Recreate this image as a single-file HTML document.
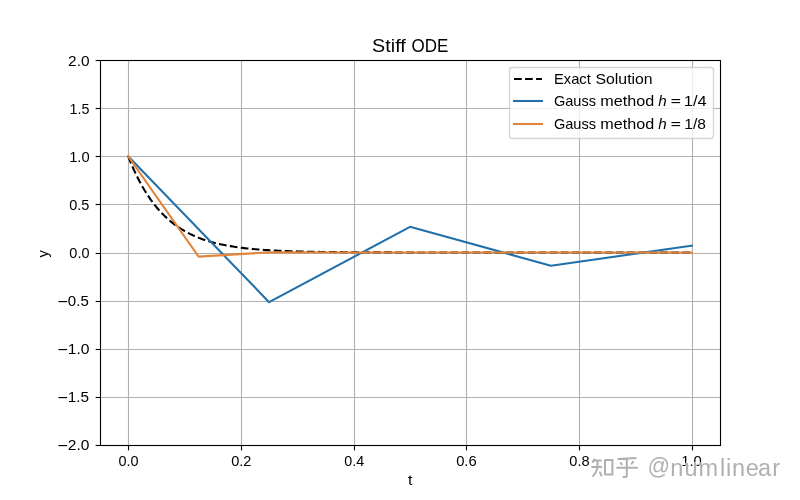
<!DOCTYPE html>
<html><head><meta charset="utf-8"><title>Stiff ODE</title>
<style>
html,body{margin:0;padding:0;background:#fff;width:800px;height:500px;overflow:hidden}
svg{display:block;will-change:transform}
text{font-family:"Liberation Sans",sans-serif;fill:#000}
.g{stroke:#b0b0b0;stroke-width:1.111}
.k{stroke:#000;stroke-width:1.111}
</style></head><body>
<svg width="800" height="500" viewBox="0 0 800 500">
<rect width="800" height="500" fill="#fff"/>
<line x1="128.5" y1="60.5" x2="128.5" y2="445.5" class="g"/>
<line x1="241.5" y1="60.5" x2="241.5" y2="445.5" class="g"/>
<line x1="354.5" y1="60.5" x2="354.5" y2="445.5" class="g"/>
<line x1="466.5" y1="60.5" x2="466.5" y2="445.5" class="g"/>
<line x1="579.5" y1="60.5" x2="579.5" y2="445.5" class="g"/>
<line x1="692.5" y1="60.5" x2="692.5" y2="445.5" class="g"/>
<line x1="100.5" y1="108.5" x2="720.5" y2="108.5" class="g"/>
<line x1="100.5" y1="156.5" x2="720.5" y2="156.5" class="g"/>
<line x1="100.5" y1="204.5" x2="720.5" y2="204.5" class="g"/>
<line x1="100.5" y1="253.5" x2="720.5" y2="253.5" class="g"/>
<line x1="100.5" y1="301.5" x2="720.5" y2="301.5" class="g"/>
<line x1="100.5" y1="349.5" x2="720.5" y2="349.5" class="g"/>
<line x1="100.5" y1="397.5" x2="720.5" y2="397.5" class="g"/>
<polyline points="128.18,156.25 131.01,163.24 133.85,169.72 136.68,175.73 139.51,181.3 142.34,186.47 145.18,191.27 148.01,195.71 150.84,199.84 153.67,203.66 156.51,207.21 159.34,210.49 162.17,213.54 165,216.37 167.83,219 170.67,221.43 173.5,223.68 176.33,225.78 179.16,227.72 182,229.52 184.83,231.18 187.66,232.73 190.49,234.17 193.33,235.5 196.16,236.73 198.99,237.88 201.82,238.94 204.66,239.92 207.49,240.84 210.32,241.68 213.15,242.47 215.98,243.2 218.82,243.87 221.65,244.5 224.48,245.08 227.31,245.62 230.15,246.12 232.98,246.58 235.81,247.01 238.64,247.41 241.48,247.78 244.31,248.12 247.14,248.44 249.97,248.74 252.8,249.01 255.64,249.26 258.47,249.5 261.3,249.72 264.13,249.92 266.97,250.1 269.8,250.28 272.63,250.44 275.46,250.59 278.3,250.73 281.13,250.86 283.96,250.98 286.79,251.09 289.63,251.19 292.46,251.28 295.29,251.37 298.12,251.45 300.95,251.53 303.79,251.6 306.62,251.67 309.45,251.73 312.28,251.78 315.12,251.83 317.95,251.88 320.78,251.93 323.61,251.97 326.45,252.01 329.28,252.04 332.11,252.08 334.94,252.11 337.78,252.14 340.61,252.16 343.44,252.19 346.27,252.21 349.1,252.23 351.94,252.25 354.77,252.27 357.6,252.29 360.43,252.3 363.27,252.32 366.1,252.33 368.93,252.34 371.76,252.35 374.6,252.36 377.43,252.37 380.26,252.38 383.09,252.39 385.93,252.4 388.76,252.41 391.59,252.41 394.42,252.42 397.25,252.43 400.09,252.43 402.92,252.44 405.75,252.44 408.58,252.44 411.42,252.45 414.25,252.45 417.08,252.46 419.91,252.46 422.75,252.46 425.58,252.46 428.41,252.47 431.24,252.47 434.07,252.47 436.91,252.47 439.74,252.48 442.57,252.48 445.4,252.48 448.24,252.48 451.07,252.48 453.9,252.48 456.73,252.48 459.57,252.49 462.4,252.49 465.23,252.49 468.06,252.49 470.9,252.49 473.73,252.49 476.56,252.49 479.39,252.49 482.22,252.49 485.06,252.49 487.89,252.49 490.72,252.49 493.55,252.49 496.39,252.49 499.22,252.5 502.05,252.5 504.88,252.5 507.72,252.5 510.55,252.5 513.38,252.5 516.21,252.5 519.05,252.5 521.88,252.5 524.71,252.5 527.54,252.5 530.37,252.5 533.21,252.5 536.04,252.5 538.87,252.5 541.7,252.5 544.54,252.5 547.37,252.5 550.2,252.5 553.03,252.5 555.87,252.5 558.7,252.5 561.53,252.5 564.36,252.5 567.2,252.5 570.03,252.5 572.86,252.5 575.69,252.5 578.52,252.5 581.36,252.5 584.19,252.5 587.02,252.5 589.85,252.5 592.69,252.5 595.52,252.5 598.35,252.5 601.18,252.5 604.02,252.5 606.85,252.5 609.68,252.5 612.51,252.5 615.34,252.5 618.18,252.5 621.01,252.5 623.84,252.5 626.67,252.5 629.51,252.5 632.34,252.5 635.17,252.5 638,252.5 640.84,252.5 643.67,252.5 646.5,252.5 649.33,252.5 652.17,252.5 655,252.5 657.83,252.5 660.66,252.5 663.49,252.5 666.33,252.5 669.16,252.5 671.99,252.5 674.82,252.5 677.66,252.5 680.49,252.5 683.32,252.5 686.15,252.5 688.99,252.5 691.82,252.5" fill="none" stroke="#000" stroke-width="2.083" stroke-dasharray="7.708 3.333" stroke-linejoin="round"/>
<polyline points="128.18,156.25 269.09,302.16 410,226.87 550.91,265.72 691.82,245.68" fill="none" stroke="#2270aa" stroke-width="2.083" stroke-linecap="square" stroke-linejoin="round"/>
<polyline points="128.18,156.25 198.64,256.64 269.09,252.32 339.55,252.51 410,252.5 480.45,252.5 550.91,252.5 621.36,252.5 691.82,252.5" fill="none" stroke="#e2843a" stroke-width="2.083" stroke-linecap="square" stroke-linejoin="round"/>
<rect x="100.5" y="60.5" width="620" height="385" fill="none" stroke="#000" stroke-width="1.111"/>
<line x1="128.5" y1="445.5" x2="128.5" y2="450.36" class="k"/>
<line x1="241.5" y1="445.5" x2="241.5" y2="450.36" class="k"/>
<line x1="354.5" y1="445.5" x2="354.5" y2="450.36" class="k"/>
<line x1="466.5" y1="445.5" x2="466.5" y2="450.36" class="k"/>
<line x1="579.5" y1="445.5" x2="579.5" y2="450.36" class="k"/>
<line x1="692.5" y1="445.5" x2="692.5" y2="450.36" class="k"/>
<line x1="95.64" y1="60.5" x2="100.5" y2="60.5" class="k"/>
<line x1="95.64" y1="108.5" x2="100.5" y2="108.5" class="k"/>
<line x1="95.64" y1="156.5" x2="100.5" y2="156.5" class="k"/>
<line x1="95.64" y1="204.5" x2="100.5" y2="204.5" class="k"/>
<line x1="95.64" y1="253.5" x2="100.5" y2="253.5" class="k"/>
<line x1="95.64" y1="301.5" x2="100.5" y2="301.5" class="k"/>
<line x1="95.64" y1="349.5" x2="100.5" y2="349.5" class="k"/>
<line x1="95.64" y1="397.5" x2="100.5" y2="397.5" class="k"/>
<line x1="95.64" y1="445.5" x2="100.5" y2="445.5" class="k"/>
<rect x="58.47" y="301" width="8.69" height="1.16" fill="#000"/>
<rect x="58.47" y="349" width="8.69" height="1.16" fill="#000"/>
<rect x="58.47" y="397" width="8.69" height="1.16" fill="#000"/>
<rect x="58.47" y="445" width="8.69" height="1.16" fill="#000"/>
<rect x="509.5" y="67.5" width="204" height="71" rx="2.78" fill="#fff" fill-opacity="0.8" stroke="#ccc" stroke-opacity="0.8" stroke-width="1.389"/>
<line x1="514" y1="79" x2="542" y2="79" stroke="#000" stroke-width="2.083" stroke-dasharray="7.708 3.333"/>
<line x1="514" y1="101" x2="542" y2="101" stroke="#2270aa" stroke-width="2.083" stroke-linecap="square"/>
<line x1="514" y1="124" x2="542" y2="124" stroke="#e2843a" stroke-width="2.083" stroke-linecap="square"/>
<rect x="671.5" y="99.04" width="8.62" height="1.1" fill="#000"/>
<rect x="671.5" y="102.04" width="8.62" height="1.1" fill="#000"/>
<rect x="671.5" y="122.04" width="8.62" height="1.1" fill="#000"/>
<rect x="671.5" y="125.04" width="8.62" height="1.1" fill="#000"/>
<text x="118.39" y="466" font-size="14.77" textLength="20.06" lengthAdjust="spacingAndGlyphs">0.0</text>
<text x="231.24" y="466" font-size="14.77" textLength="20.21" lengthAdjust="spacingAndGlyphs">0.2</text>
<text x="344.21" y="466" font-size="14.77" textLength="19.89" lengthAdjust="spacingAndGlyphs">0.4</text>
<text x="456.15" y="466" font-size="14.77" textLength="20.58" lengthAdjust="spacingAndGlyphs">0.6</text>
<text x="569.31" y="466" font-size="14.77" textLength="20.23" lengthAdjust="spacingAndGlyphs">0.8</text>
<text x="681.17" y="466" font-size="14.77" textLength="20.67" lengthAdjust="spacingAndGlyphs">1.0</text>
<text x="68.07" y="66" font-size="14.77" textLength="21.42" lengthAdjust="spacingAndGlyphs">2.0</text>
<text x="69.47" y="114" font-size="14.77" textLength="19.9" lengthAdjust="spacingAndGlyphs">1.5</text>
<text x="69.13" y="162" font-size="14.77" textLength="20.49" lengthAdjust="spacingAndGlyphs">1.0</text>
<text x="69.27" y="210" font-size="14.77" textLength="20.15" lengthAdjust="spacingAndGlyphs">0.5</text>
<text x="69.35" y="258" font-size="14.77" textLength="20.12" lengthAdjust="spacingAndGlyphs">0.0</text>
<text x="67.89" y="306" font-size="14.77" textLength="20.91" lengthAdjust="spacingAndGlyphs">0.5</text>
<text x="67.75" y="354" font-size="14.77" textLength="21.76" lengthAdjust="spacingAndGlyphs">1.0</text>
<text x="67.77" y="402" font-size="14.77" textLength="21.32" lengthAdjust="spacingAndGlyphs">1.5</text>
<text x="67.84" y="450" font-size="14.77" textLength="21.6" lengthAdjust="spacingAndGlyphs">2.0</text>
<text x="372.12" y="52" font-size="17.72" textLength="33.68" lengthAdjust="spacingAndGlyphs">Stiff</text>
<text x="411.43" y="52" font-size="17.72" textLength="36.8" lengthAdjust="spacingAndGlyphs">ODE</text>
<text x="408.03" y="485" font-size="14.77" textLength="4.46" lengthAdjust="spacingAndGlyphs">t</text>
<text x="48.43" y="257.37" transform="rotate(-90 48.43 257.37)" font-size="14.77" textLength="7.35" lengthAdjust="spacingAndGlyphs">y</text>
<text x="554.04" y="84" font-size="14.77" textLength="36.71" lengthAdjust="spacingAndGlyphs">Exact</text>
<text x="595.44" y="84" font-size="14.77" textLength="57.24" lengthAdjust="spacingAndGlyphs">Solution</text>
<text x="553.88" y="106" font-size="14.77" textLength="42.17" lengthAdjust="spacingAndGlyphs">Gauss</text>
<text x="600.27" y="106" font-size="14.77" textLength="53.94" lengthAdjust="spacingAndGlyphs">method</text>
<text x="658.2" y="106" font-size="14.77" textLength="8.46" lengthAdjust="spacingAndGlyphs" font-style="italic">h</text>
<text x="553.88" y="129" font-size="14.77" textLength="42.17" lengthAdjust="spacingAndGlyphs">Gauss</text>
<text x="600.27" y="129" font-size="14.77" textLength="53.94" lengthAdjust="spacingAndGlyphs">method</text>
<text x="658.2" y="129" font-size="14.77" textLength="8.46" lengthAdjust="spacingAndGlyphs" font-style="italic">h</text>
<text x="683.74" y="106" font-size="14.77" textLength="22.88" lengthAdjust="spacingAndGlyphs">1/4</text>
<text x="684.37" y="129" font-size="14.77" textLength="21.61" lengthAdjust="spacingAndGlyphs">1/8</text>
<g id="wm">
<g fill="none" stroke-linecap="butt" stroke-linejoin="miter">
<path id="cj" stroke="#fff" stroke-width="3.2" d="M594.6 458.8 L592.4 462.8 M593.2 460.5 H601.6 M597.5 460.5 V466.9 M591.4 466.9 H602 M597.5 467.6 Q596.4 472.8 592.6 476.6 M599.6 471.6 L601.9 476.4 M605 459.4 V475.2 M605 460 H612.4 V474.4 H605 M617.6 459.1 L636.4 457.9 M620.3 462.3 L622.1 465 M633.6 461.2 L631.2 464.5 M616.4 467.8 H637.9 M626.8 458.4 V475.7 Q626.8 477 625.3 477 H622.6"/>
<path stroke="#b0b0b0" stroke-width="2" d="M594.6 458.8 L592.4 462.8 M593.2 460.5 H601.6 M597.5 460.5 V466.9 M591.4 466.9 H602 M597.5 467.6 Q596.4 472.8 592.6 476.6 M599.6 471.6 L601.9 476.4 M605 459.4 V475.2 M605 460 H612.4 V474.4 H605 M617.6 459.1 L636.4 457.9 M620.3 462.3 L622.1 465 M633.6 461.2 L631.2 464.5 M616.4 467.8 H637.9 M626.8 458.4 V475.7 Q626.8 477 625.3 477 H622.6"/>
</g>
<g style="fill:#b0b0b0;stroke:#fff;stroke-width:1.2;paint-order:stroke;stroke-linejoin:round">
<text transform="translate(658.65 474.2) scale(0.926 1)" x="-12.1" y="0" font-size="24" style="fill:#b0b0b0;stroke:#fff;stroke-width:1.2;paint-order:stroke;stroke-linejoin:round">@</text>
<text x="670.36 684.38 698.61 719.89 726.09 732.11 745.84 758.12 772.35" y="475.5" font-size="23.5" style="fill:#b0b0b0;stroke:#fff;stroke-width:1.2;paint-order:stroke;stroke-linejoin:round">numlinear</text>
</g>
</g>

</svg>
</body></html>
